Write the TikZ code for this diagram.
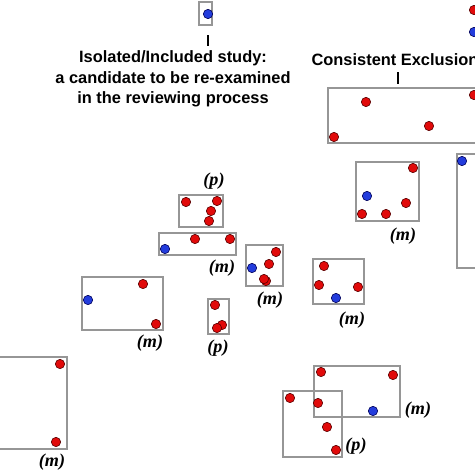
\documentclass[tikz,border=0pt]{standalone}
\usepackage{fontspec}
\setmainfont{Liberation Sans}
\newfontfamily\labfont{Liberation Serif}
\usepackage{tikz}
\definecolor{studyred}{RGB}{225,10,10}
\definecolor{studyblue}{RGB}{35,60,220}
\definecolor{boxgray}{RGB}{150,150,150}
\newcommand{\rstudy}[1] {
  \filldraw[fill=studyred,draw=black!65!red,line width=0.5pt] #1 circle (0.14cm);}
\newcommand{\bstudy}[1] {
  \filldraw[fill=studyblue,draw=black!65!blue,line width=0.5pt] #1 circle (0.14cm);}
\tikzset{
  clusterbox/.style={draw=boxgray,line width=1.2pt},
  tickmark/.style={line width=2.4pt},
  caption/.style={font=\bfseries\fontsize{14}{17.5}\selectfont,align=center},
  kind/.style={font=\labfont\bfseries\itshape\fontsize{15.5}{16}\selectfont,inner sep=0pt}
}
\begin{document}
\begin{tikzpicture}[x=0.03cm,y=-0.03cm]
					\useasboundingbox (0,0) rectangle (474,474);
					%ISOLATED STUDY
					\draw[clusterbox] (199,2) rectangle (212,25);
					\bstudy{(208,14)}
					\coordinate (isoA) at (208,35);
					\coordinate (isoB) at (208,46);
					\draw[tickmark] (isoA) -- (isoB);
					\node[caption] (iso) at (173,79) {Isolated/Included study:\\a candidate to be re-examined\\in the reviewing process};
					%CONSISTENT EXCLUSION
					\node[caption] (excl) at (395,60) {Consistent Exclusion};
					\coordinate (exA) at (398,72);
					\coordinate (exB) at (398,84);
					\draw[tickmark] (exA) -- (exB);
					\draw[clusterbox] (328,88) rectangle (490,143);
					\rstudy{(366,102)} \rstudy{(429,126)} \rstudy{(334,137)} \rstudy{(474,95)}
					\rstudy{(474,10)} \bstudy{(474,32)}
					\draw[clusterbox] (457,154) rectangle (490,268);
					\bstudy{(462,161)}
					%CLUSTERS
					\draw[clusterbox] (356,162) rectangle (419,221);
					\rstudy{(413,168)} \bstudy{(367,196)} \rstudy{(406,203)} \rstudy{(362,214)} \rstudy{(386,214)}
					\node[kind] (m1) at (403,236) {(m)};
					\draw[clusterbox] (313,259) rectangle (364,304);
					\rstudy{(324,266)} \rstudy{(319,285)} \rstudy{(358,287)} \bstudy{(336,298)}
					\node[kind] (m2) at (352,320) {(m)};
					\draw[clusterbox] (179,195) rectangle (223,227);
					\rstudy{(186,202)} \rstudy{(217,201)} \rstudy{(211,211)} \rstudy{(209,221)}
					\node[kind] (p1) at (214,181) {(p)};
					\draw[clusterbox] (159,233) rectangle (236,255);
					\bstudy{(165,249)} \rstudy{(195,239)} \rstudy{(230,239)}
					\node[kind] (m3) at (222,268) {(m)};
					\draw[clusterbox] (246,245) rectangle (283,286);
					\rstudy{(276,252)} \rstudy{(269,264)} \bstudy{(252,268)} \rstudy{(266,281)} \rstudy{(264,279)}
					\node[kind] (m4) at (270,300) {(m)};
					\draw[clusterbox] (208,299) rectangle (229,334);
					\rstudy{(215,305)} \rstudy{(222,325)} \rstudy{(217,328)}
					\node[kind] (p2) at (218,348) {(p)};
					\draw[clusterbox] (82,277) rectangle (163,330);
					\rstudy{(143,284)} \bstudy{(88,300)} \rstudy{(156,324)}
					\node[kind] (m5) at (150,343) {(m)};
					\draw[clusterbox] (-20,357) rectangle (67,449);
					\rstudy{(60,364)} \rstudy{(56,442)}
					\node[kind] (m6) at (52,462) {(m)};
					\draw[clusterbox] (314,366) rectangle (400,417);
					\draw[clusterbox] (283,391) rectangle (342,457);
					\rstudy{(321,372)} \rstudy{(393,375)} \bstudy{(373,411)}
					\rstudy{(290,398)} \rstudy{(318,403)} \rstudy{(327,427)} \rstudy{(336,450)}
					\node[kind] (m7) at (418,410) {(m)};
					\node[kind] (p3) at (356,446) {(p)};
\end{tikzpicture}
\end{document}
